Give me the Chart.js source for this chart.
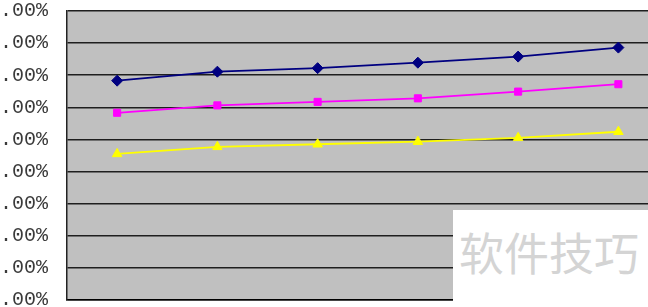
<!DOCTYPE html>
<html>
<head>
<meta charset="utf-8">
<script src="https://cdn.jsdelivr.net/npm/chart.js@4/dist/chart.umd.min.js"></script>
<style>
  html, body { margin: 0; padding: 0; background: #ffffff; }
  #wrap { position: relative; width: 648px; height: 307px; overflow: hidden; background: #ffffff; }
  #c { position: absolute; left: -20px; top: -20px; }
  #wm { position: absolute; left: 453px; top: 210px; width: 200px; height: 100px; background: #ffffff; }
  #wm span { position: absolute; left: 6px; top: 12px; font-family: "Noto Sans CJK SC", sans-serif; font-size: 45px; line-height: 60px; color: #d4d4d4; white-space: nowrap; }
</style>
</head>
<body>
<div id="wrap">
  <canvas id="c" width="695" height="340"></canvas>
  <div id="wm"><span>软件技巧</span></div>
</div>
<script>
const categories = ['1', '2', '3', '4', '5', '6'];
const seriesNavy = [6.83, 7.11, 7.22, 7.39, 7.58, 7.86];
const seriesMagenta = [5.83, 6.06, 6.17, 6.28, 6.49, 6.72];
const seriesYellow = [4.55, 4.77, 4.85, 4.93, 5.05, 5.24];
const yTickLabels = ['0.00%', '1.00%', '2.00%', '3.00%', '4.00%', '5.00%', '6.00%', '7.00%', '8.00%', '9.00%'];

const plotBg = {
  id: 'plotBg',
  beforeDraw(chart) {
    const { ctx, chartArea: a } = chart;
    ctx.save();
    ctx.fillStyle = '#c0c0c0';
    ctx.fillRect(a.left, a.top, a.right - a.left, a.bottom - a.top);
    ctx.restore();
  }
};

new Chart(document.getElementById('c'), {
  type: 'line',
  data: {
    labels: categories,
    datasets: [
      { data: seriesNavy, borderColor: '#000080', backgroundColor: '#000080', borderWidth: 1.8,
        pointStyle: 'rectRot', pointRadius: 5.5, pointBorderWidth: 1, tension: 0 },
      { data: seriesMagenta, borderColor: '#ff00ff', backgroundColor: '#ff00ff', borderWidth: 1.8,
        pointStyle: 'rect', pointRadius: 5, pointBorderWidth: 1, tension: 0 },
      { data: seriesYellow, borderColor: '#ffff00', backgroundColor: '#ffff00', borderWidth: 1.8,
        pointStyle: 'triangle', pointRadius: 5.5, pointBorderWidth: 1, tension: 0 }
    ]
  },
  options: {
    responsive: false,
    animation: false,
    layout: { padding: { top: 31, bottom: 20, left: 0, right: 0 } },
    plugins: { legend: { display: false }, tooltip: { enabled: false } },
    scales: {
      x: {
        offset: true,
        afterFit(scale) { scale.height = 0; },
        grid: { display: false, drawTicks: false },
        border: { display: true, color: '#000000', width: 1.5 },
        ticks: { display: false }
      },
      y: {
        min: 0, max: 9,
        afterFit(scale) { scale.width = 87; },
        ticks: {
          stepSize: 1,
          padding: 0,
          color: '#3a3a3a',
          font: { family: '"Liberation Mono", monospace', size: 20 },
          callback: (v, i) => yTickLabels[i]
        },
        grid: { color: '#1e1e1e', lineWidth: 1.5, drawTicks: true, tickLength: 19, tickColor: 'rgba(0,0,0,0)' },
        border: { display: true, color: '#222222', width: 1.5 }
      }
    }
  },
  plugins: [plotBg]
});
</script>
</body>
</html>
